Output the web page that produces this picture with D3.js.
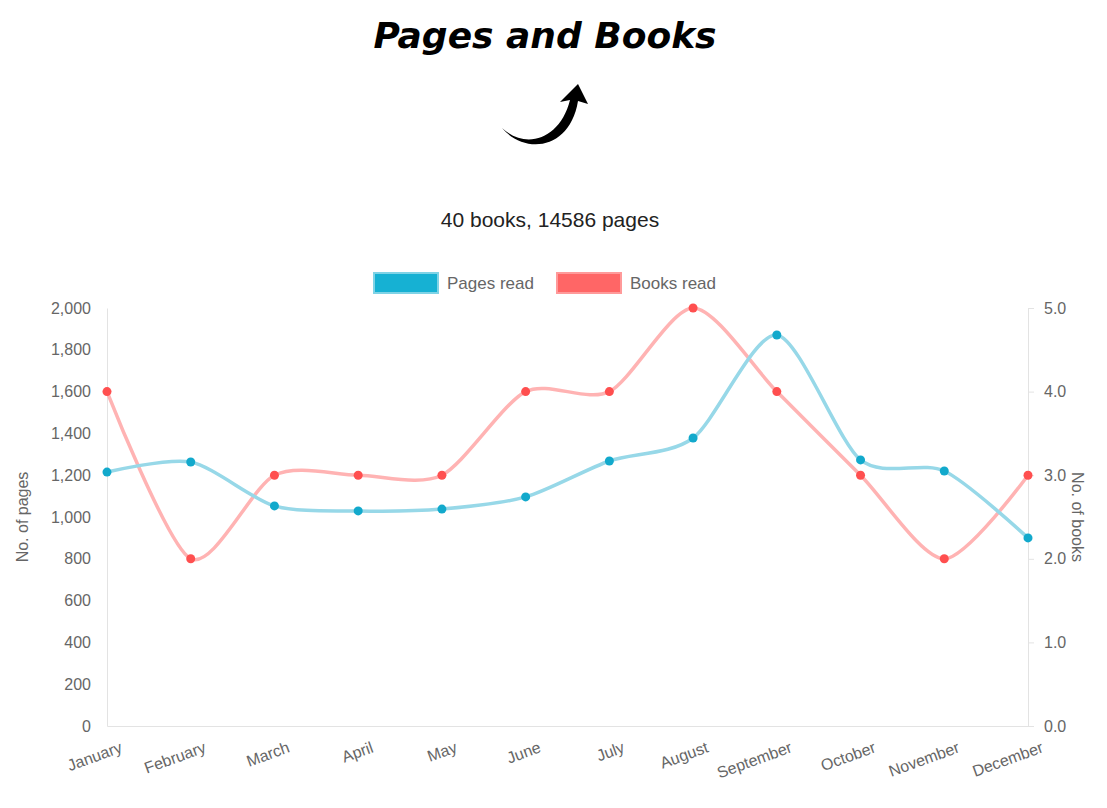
<!DOCTYPE html>
<html><head><meta charset="utf-8">
<script src="https://cdn.jsdelivr.net/npm/d3@7"></script>
<style>body{margin:0;background:#fff;font-family:"Helvetica Neue",Arial,"Liberation Sans",sans-serif}</style>
</head><body>
<svg id="chart" width="1107" height="808"></svg>
<script>
// data
const months = ["January","February","March","April","May","June","July","August","September","October","November","December"];
const pagesRead = [1215, 1263, 1053, 1029, 1038, 1096, 1268, 1378, 1871, 1273, 1220, 900];
const booksRead = [4, 2, 3, 3, 3, 4, 4, 5, 4, 3, 2, 3];
const pageTicks = [0,200,400,600,800,1000,1200,1400,1600,1800,2000];
const bookTicks = [0,1,2,3,4,5];

const svg = d3.select("#chart");
const plotLeft = 107, plotRight = 1028, plotTop = 308, plotBottom = 726;

const x = d3.scalePoint().domain(months).range([plotLeft, plotRight]);
const yPages = d3.scaleLinear().domain([0, 2000]).range([plotBottom, plotTop]);
const yBooks = d3.scaleLinear().domain([0, 5]).range([plotBottom, plotTop]);

// header
svg.append("text").attr("x", 545).attr("y", 48).attr("text-anchor", "middle")
  .attr("font-family", "'DejaVu Sans', sans-serif").attr("font-weight", "bold")
  .attr("font-style", "italic").attr("font-size", 36).text("Pages and Books");
svg.append("path")
  .attr("d", "M502,128 C525,150 560,140 570,100 L560,102 L578,84 L588,104 L578,101 C570,150 525,155 502,128 Z")
  .attr("fill", "#000");

svg.append("text").attr("x", 550).attr("y", 227).attr("text-anchor", "middle")
  .attr("font-size", 21).attr("fill", "#222").text("40 books, 14586 pages");

// legend
const legend = [{label: "Pages read", fill: "#16b1d3", stroke: "#7fd3e6", x: 374},
                {label: "Books read", fill: "#ff6666", stroke: "#ff9a9a", x: 557}];
legend.forEach(l => {
  svg.append("rect").attr("x", l.x).attr("y", 273).attr("width", 64).attr("height", 20)
    .attr("fill", l.fill).attr("stroke", l.stroke).attr("stroke-width", 2);
  svg.append("text").attr("x", l.x + 73).attr("y", 289).attr("font-size", 17).attr("fill", "#666").text(l.label);
});

// axes
const gl = svg.append("g").attr("transform", `translate(${plotLeft},0)`)
  .call(d3.axisLeft(yPages).tickValues(pageTicks).tickSize(0).tickPadding(16).tickFormat(d3.format(",")));
const gr = svg.append("g").attr("transform", `translate(${plotRight},0)`)
  .call(d3.axisRight(yBooks).tickValues(bookTicks).tickSize(6).tickPadding(10));
const gb = svg.append("g").attr("transform", `translate(0,${plotBottom})`)
  .call(d3.axisBottom(x).tickSize(0).tickPadding(14));
[gl, gr, gb].forEach(g => {
  g.selectAll("text").attr("font-size", 16).attr("fill", "#666");
  g.select(".domain").attr("stroke", "#e3e3e3");
  g.selectAll("line").attr("stroke", "#e3e3e3");
});
gb.selectAll("text").attr("text-anchor", "end").attr("dy", "0.6em")
  .attr("transform", "rotate(-20) translate(6,6)");

svg.append("text").attr("transform", `translate(28,${(plotTop+plotBottom)/2}) rotate(-90)`)
  .attr("text-anchor", "middle").attr("font-size", 16).attr("fill", "#666").text("No. of pages");
svg.append("text").attr("transform", `translate(1072,${(plotTop+plotBottom)/2}) rotate(90)`)
  .attr("text-anchor", "middle").attr("font-size", 16).attr("fill", "#666").text("No. of books");

// lines
const curve = d3.curveCardinal.tension(0.2);
svg.append("path").datum(booksRead).attr("fill", "none").attr("stroke", "#ffb3b3").attr("stroke-width", 3.5)
  .attr("d", d3.line().x((d, i) => x(months[i])).y(d => yBooks(d)).curve(curve));
svg.append("path").datum(pagesRead).attr("fill", "none").attr("stroke", "#97d8e8").attr("stroke-width", 3.5)
  .attr("d", d3.line().x((d, i) => x(months[i])).y(d => yPages(d)).curve(curve));

svg.selectAll(".pb").data(booksRead).enter().append("circle")
  .attr("cx", (d, i) => x(months[i])).attr("cy", d => yBooks(d)).attr("r", 4.5).attr("fill", "#ff4f4f");
svg.selectAll(".pp").data(pagesRead).enter().append("circle")
  .attr("cx", (d, i) => x(months[i])).attr("cy", d => yPages(d)).attr("r", 4.5).attr("fill", "#12a9cc");
</script>
</body></html>
